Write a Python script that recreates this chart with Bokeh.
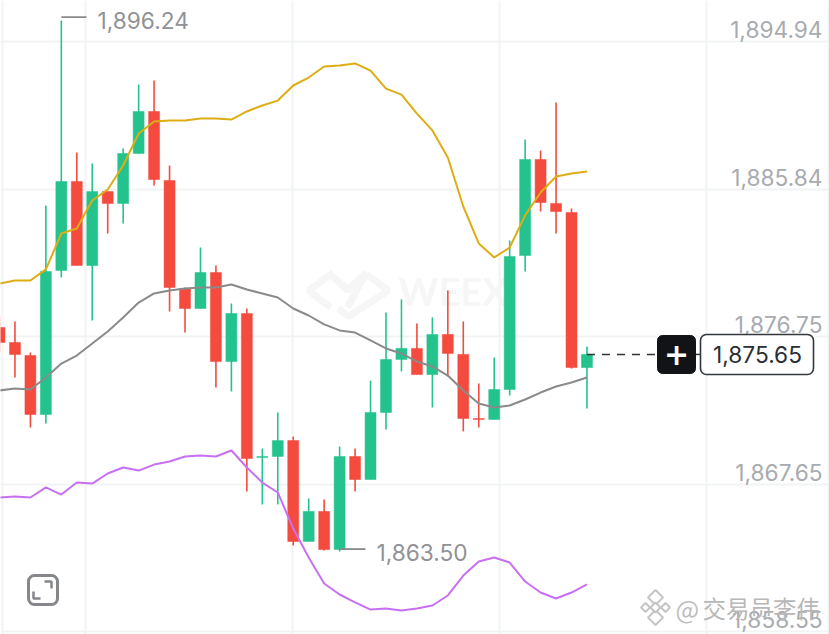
from bokeh.plotting import figure
from bokeh.models import Range1d, FixedTicker, BoxAnnotation, ColumnDataSource
from bokeh.core.properties import value
from bokeh.embed import file_html
from bokeh.resources import INLINE

opens = [1877.31,1876.39,1875.58,1871.95,1880.82,1886.31,1881.13,1885.69,1884.96,1888.04,
         1890.63,1886.37,1879.71,1878.48,1880.70,1875.21,1878.17,1869.30,1869.36,1870.34,
         1864.12,1865.97,1863.62,1869.36,1867.94,1872.07,1875.34,1876.02,1874.41,1876.88,
         1875.65,1871.70,1871.64,1873.49,1881.75,1887.67,1884.96,1884.40,1874.84]
closes = [1876.39,1875.65,1871.95,1880.76,1886.31,1881.13,1885.69,1884.96,1888.04,1890.63,
          1886.43,1879.78,1878.48,1880.70,1875.21,1878.17,1869.23,1869.36,1870.34,1864.12,
          1865.97,1863.62,1869.36,1867.94,1872.07,1875.34,1876.02,1874.41,1876.88,1875.71,
          1871.70,1871.64,1873.49,1881.69,1887.67,1885.02,1884.46,1874.84,1875.65]
highs = [1877.99,1877.68,1875.77,1884.83,1896.24,1888.10,1887.42,1885.69,1888.35,1892.29,
         1892.54,1887.30,1879.78,1882.24,1881.13,1878.79,1878.48,1869.85,1872.07,1870.59,
         1866.77,1866.71,1869.97,1869.85,1874.04,1878.24,1879.04,1877.56,1877.93,1879.59,
         1877.68,1873.86,1875.46,1882.67,1888.90,1888.22,1891.18,1884.65,1876.14]
lows = [1875.77,1874.23,1871.15,1871.39,1880.39,1881.13,1877.74,1883.11,1883.72,1888.04,
        1886.06,1878.30,1877.00,1878.48,1873.61,1873.36,1867.20,1866.40,1866.40,1863.87,
        1864.12,1863.56,1863.50,1867.20,1867.94,1871.02,1874.60,1874.41,1872.38,1874.29,
        1870.90,1871.15,1871.64,1873.12,1880.76,1884.46,1883.11,1874.78,1872.32]
upper_band = [1880.02,1880.21,1880.21,1880.89,1883.11,1883.41,1885.14,1885.82,1887.30,1889.27,
              1890.01,1890.07,1890.07,1890.20,1890.20,1890.13,1890.63,1891.00,1891.30,1892.23,
              1892.72,1893.40,1893.46,1893.59,1893.15,1892.04,1891.67,1890.50,1889.46,1887.79,
              1884.77,1882.49,1881.63,1882.24,1884.22,1885.63,1886.62,1886.80,1886.93]
middle_band = [1873.43,1873.55,1873.49,1874.23,1875.09,1875.58,1876.32,1877.06,1877.93,1878.85,
               1879.41,1879.59,1879.71,1879.78,1879.78,1879.96,1879.65,1879.41,1879.16,1878.48,
               1878.05,1877.50,1877.13,1877.00,1876.51,1876.02,1875.71,1875.21,1874.91,1874.35,
               1873.43,1872.63,1872.38,1872.50,1872.87,1873.30,1873.67,1873.92,1874.23]
lower_band = [1866.83,1866.89,1866.83,1867.45,1867.01,1867.75,1867.69,1868.31,1868.68,1868.49,
              1868.86,1869.05,1869.36,1869.42,1869.36,1869.73,1868.68,1867.75,1867.14,1864.92,
              1863.13,1861.53,1860.85,1860.36,1859.92,1859.99,1859.86,1859.99,1860.17,1860.79,
              1862.02,1862.88,1863.13,1862.82,1861.65,1860.97,1860.60,1860.97,1861.47]
price_ticks = [1894.94, 1885.84, 1876.75, 1867.65, 1858.55]
time_ticks = [5.56, 18.95, 32.34, 45.73]
last_price = 1875.65
high_price = 1896.24
low_price = 1863.50

W, H = 829, 634
x0, xstep = 0.065, 15.46      # candle index at the left edge, pixels per candle
y_top, y_per_px = 1897.47, 0.06165
X = lambda px: x0 + px / xstep
Y = lambda py: y_top - py * y_per_px

GREEN, RED = "#24C38E", "#F44B3E"
FONT = value("Inter")
FSIZE = "22.7px"

p = figure(width=W, height=H, output_backend="svg", toolbar_location=None,
           x_range=Range1d(X(0), X(W)), y_range=Range1d(Y(H), Y(0)),
           min_border=0, outline_line_color=None,
           styles={"position": "absolute", "left": "0px", "top": "0px"})
p.xaxis.visible = False
p.yaxis.visible = False
p.xgrid.ticker = FixedTicker(ticks=time_ticks + [X(1.5), X(827.5)])
p.ygrid.ticker = FixedTicker(ticks=price_ticks)
p.grid.grid_line_color = "#F2F3F4"
p.grid.grid_line_width = 2

# WEEX background watermark
WM = "#F6F6F6"
p.multi_line(xs=[[X(a) for a in s] for s in ([330, 308, 330], [345, 328, 347, 366, 347],
                                              [366, 388, 348, 338])],
             ys=[[Y(a) for a in s] for s in ([274, 290, 307], [287, 272, 290, 272, 307],
                                              [274, 290, 316, 308])],
             line_color=WM, line_width=7)
p.text(x=[X(398)], y=[Y(290)], text=["WEEX"], text_font=value("Lato"), text_font_style="bold",
       text_font_size="38px", text_color=WM, text_baseline="middle")

# candles
colors = [GREEN if c >= o else RED for o, c in zip(opens, closes)]
n = len(opens)
src = ColumnDataSource(dict(i=list(range(n)), o=opens, c=closes, h=highs, l=lows, col=colors))
p.segment(x0="i", y0="h", x1="i", y1="l", color="col", line_width=1.6, source=src)
p.vbar(x="i", bottom="o", top="c", width=0.71, fill_color="col", line_color="col",
       line_width=0.5, source=src)

# Bollinger bands
xs = list(range(n))
p.line(xs, middle_band, line_color="#8A8A8A", line_width=2)
p.line(xs, upper_band, line_color="#DDAD14", line_width=2)
p.line(xs, lower_band, line_color="#C770F3", line_width=2)

# price labels on the right
tick_text = [f"{v:,.2f}" for v in price_ticks]
p.text(x=[X(822)] * 5, y=[v + 12 * y_per_px for v in price_ticks], text=tick_text,
       text_font=FONT, text_font_size=FSIZE, text_color="#A8ABAF",
       text_align="right", text_baseline="middle")

# high / low callouts
p.line([4, X(86)], [high_price + 0.2] * 2, line_color="#8A8A8A", line_width=1.8)
p.text(x=[X(97)], y=[high_price], text=[f"{high_price:,.2f}"], text_font=FONT,
       text_font_size=FSIZE, text_color="#909296", text_baseline="middle")
p.line([22, X(365)], [low_price + 0.15] * 2, line_color="#8A8A8A", line_width=1.8)
p.text(x=[X(376)], y=[low_price - 0.05], text=[f"{low_price:,.2f}"], text_font=FONT,
       text_font_size=FSIZE, text_color="#909296", text_baseline="middle")

# last price line, add button, price box
p.line([38, X(655)], [last_price] * 2, line_color="#333333", line_width=1.6, line_dash="8 7")
p.line([X(695), X(700)], [last_price] * 2, line_color="#333333", line_width=1.5)
p.add_layout(BoxAnnotation(left=X(657), right=X(695), top=Y(335), bottom=Y(373),
                           fill_color="#111316", fill_alpha=1, line_color="#111316",
                           line_alpha=1, border_radius=5))
p.add_layout(BoxAnnotation(left=X(700), right=X(813), top=Y(334), bottom=Y(374),
                           fill_color="#FFFFFF", fill_alpha=1, line_color="#33363A",
                           line_alpha=1, line_width=1.6, border_radius=6))
p.text(x=[X(676)], y=[last_price], text=["+"], text_font=value("DejaVu Sans"),
       text_font_style="bold", text_font_size="30px", text_color="#FFFFFF",
       text_align="center", text_baseline="middle", level="overlay")
p.text(x=[X(757)], y=[last_price], text=[f"{last_price:,.2f}"], text_font=FONT,
       text_font_size=FSIZE, text_color="#2B2E33", text_align="center",
       text_baseline="middle", level="overlay")

# fullscreen icon
p.add_layout(BoxAnnotation(left=X(28), right=X(57), top=Y(575), bottom=Y(604),
                           fill_color="#FFFFFF", fill_alpha=1, line_color="#85878B",
                           line_alpha=1, line_width=3, border_radius=6))
p.multi_line(xs=[[X(44), X(51), X(51)], [X(33), X(33), X(40)]],
             ys=[[Y(581), Y(581), Y(588)], [Y(591), Y(598), Y(598)]],
             line_color="#85878B", line_width=2.5, level="overlay")

# bottom-right watermark: a logo of small diamonds
def diamond(cx, cy, r):
    return [X(cx - r), X(cx), X(cx + r), X(cx)], [Y(cy), Y(cy - r), Y(cy), Y(cy + r)]
logo = [diamond(655, 597, 7.5), diamond(645, 607, 4.5), diamond(665, 607, 4.5),
        diamond(655, 617, 7.5), diamond(655, 607, 5)]
p.patches(xs=[d[0] for d in logo], ys=[d[1] for d in logo], fill_color="#FFFFFF",
          line_color="#C4C4C4", line_width=2, level="overlay")
p.text(x=[X(675)], y=[Y(607)], text=["@"], text_font=value("Noto Sans CJK SC"),
       text_font_size="25px", text_color="#BDBDBD", text_baseline="middle", level="overlay")
p.text(x=[X(702)], y=[Y(607)], text=["交易员李伟"], text_font=value("Noto Sans CJK SC"),
       text_font_size="23.5px", text_color="#B8B8B8", text_baseline="middle", level="overlay")

open("out.html", "w").write(file_html(p, INLINE))
